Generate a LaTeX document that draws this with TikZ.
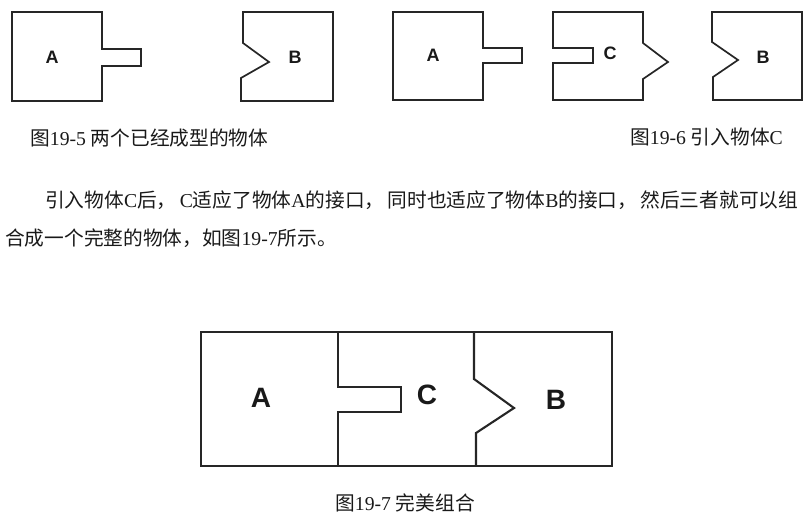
\documentclass[tikz,border=0pt]{standalone}
\usepackage{fontspec}
\setmainfont{Liberation Serif}
\newfontfamily\cjk{Noto Sans CJK SC}
\newfontfamily\tagfont{Liberation Sans}
\tikzset{
  part/.style={line width=1.7pt, draw=black!85},
  bigpart/.style={line width=2.1pt, draw=black!85},
  tag/.style={font=\tagfont\bfseries\fontsize{18}{18}\selectfont, text=black!90},
  bigtag/.style={font=\tagfont\bfseries\fontsize{28}{28}\selectfont, text=black!90},
  txt/.style={font=\fontsize{19.7}{19.7}\selectfont, text=black!90, inner sep=0pt, anchor=west}
}
\begin{document}
\begin{tikzpicture}[x=1pt,y=-1pt]
\useasboundingbox (0,0) rectangle (808,522);
\draw[part] (12,12) -- (102,12) -- (102,49) -- (141,49) -- (141,66) -- (102,66) -- (102,101) -- (12,101) -- cycle;
\draw[part] (243,12) -- (333,12) -- (333,101) -- (241,101) -- (241,78) -- (269,62) -- (243,43) -- cycle;
\node[tag] (a1) at (52,57) {A};
\node[tag] (b1) at (295,57) {B};
\node[txt] (cap1) at (30,138) {{\cjk 图}19-5 {\cjk 两个已经成型的物体}};

\draw[part] (393,12) -- (483,12) -- (483,48) -- (522,48) -- (522,63) -- (483,63) -- (483,100) -- (393,100) -- cycle;
\draw[part] (553,12) -- (643,12) -- (643,43) -- (668,62) -- (643,79) -- (643,100) -- (553,100) -- (553,63) -- (593,63) -- (593,48) -- (553,48) -- cycle;
\draw[part] (712,12) -- (802,12) -- (802,100) -- (713,100) -- (713,77) -- (738,60) -- (712,42) -- cycle;
\node[tag] (a2) at (433,55) {A};
\node[tag] (c2) at (610,53) {C};
\node[tag] (b2) at (763,57) {B};
\node[txt] (cap2) at (630,137) {{\cjk 图}19-6 {\cjk 引入物体}C};

\node[txt] (line1) at (45,200) {\makebox[751pt][s]{{\cjk 引入物体}C{\cjk 后，} C{\cjk 适应了物体}A{\cjk 的接口，} {\cjk 同时也适应了物体}B{\cjk 的接口，} {\cjk 然后三者就可以组}}};
\node[txt] (line2) at (5,238) {{\cjk 合成一个完整的物体，如图}19-7{\cjk 所示。}};

\draw[bigpart] (201,332) rectangle (612,466);
\draw[bigpart] (338,332) -- (338,387) -- (401,387) -- (401,412) -- (338,412) -- (338,466);
\draw[bigpart] (474,332) -- (474,379) -- (514,408) -- (476,433) -- (476,466);
\node[bigtag] (a3) at (261,398) {A};
\node[bigtag] (c3) at (427,395) {C};
\node[bigtag] (b3) at (556,400) {B};
\node[txt, anchor=center] (cap3) at (405,503) {{\cjk 图}19-7 {\cjk 完美组合}};
\end{tikzpicture}
\end{document}
